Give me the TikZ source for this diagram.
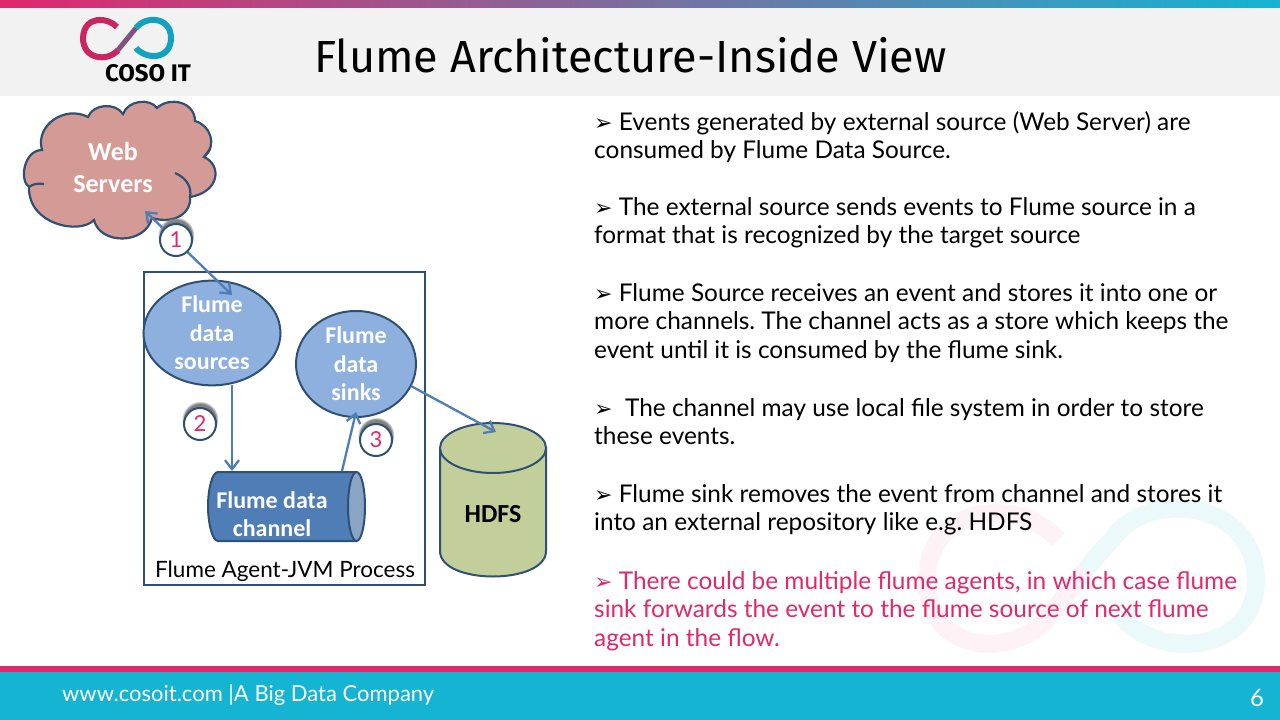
\documentclass[tikz,border=0pt]{standalone}
\usepackage{fontspec}
\setmainfont{Lato}
\newfontfamily\headfont{Fira Sans}
\newfontfamily\boxfont{Carlito}
\newfontfamily\markfont{DejaVu Sans}
\usetikzlibrary{arrows.meta}
\usetikzlibrary{shapes.geometric}
\usetikzlibrary{shadows}
\definecolor{rimblue}{HTML}{2F5073}
\definecolor{flowblue}{HTML}{4F7DB5}
\definecolor{paleblue}{HTML}{8EB0DE}
\definecolor{cloudred}{HTML}{D49B96}
\definecolor{drumgreen}{HTML}{C3CF9A}
\definecolor{cosopink}{HTML}{E0286C}
\definecolor{cosoteal}{HTML}{14B4D2}
\newcommand{\para}[1]{{\markfont\fontsize{22}{20}\selectfont ➢}#1}
\tikzset{
	boxtext/.style={font=\boxfont\bfseries\fontsize{24}{28.5}\selectfont,align=center,text=white},
	blob/.style={draw=rimblue,fill=paleblue,ellipse,line width=2pt,inner sep=0pt,boxtext},
	stepcirc/.style={draw=rimblue,fill=white,circle,line width=2pt,minimum size=32pt,inner sep=0pt,text=cosopink,font=\fontsize{22}{24}\selectfont,
		circular drop shadow={shadow xshift=0pt,shadow yshift=4pt,shadow scale=1.15}},
	bodytext/.style={anchor=north west,align=left,inner sep=0pt,font=\frenchspacing\fontsize{24.4}{28.8}\selectfont},
	flow/.style={->,draw=flowblue,line width=2.3pt}
}
\begin{document}
\begin{tikzpicture}[x=1pt,y=-1pt,>={Straight Barb[length=9pt,width=14pt]}]
		\useasboundingbox (0,0) rectangle (1280,720);
		\fill[white] (0,0) rectangle (1280,720);
		% watermark
		\draw[line width=18pt,color=cosopink!6] (1058,540) .. controls (1020,495) and (927,505) .. (927,580) .. controls (927,655) and (1015,660) .. (1050,615) -- (1085,570);
		\draw[line width=18pt,color=cosoteal!8] (1085,570) -- (1120,530) .. controls (1160,490) and (1256,505) .. (1256,580) .. controls (1256,655) and (1155,660) .. (1120,615);
		% bands
		\shade[left color=cosopink,right color=cosoteal] (0,0) rectangle (1280,8);
		\fill[black!5] (0,8) rectangle (1280,96);
		\fill[cosopink] (0,666) rectangle (1280,672);
		\fill[cosoteal] (0,672) rectangle (1280,720);
		% logo
		\draw[line width=6pt,color=cosopink!90!black] (117,27) .. controls (108,17) and (84,15) .. (83,38) .. controls (83,60) and (108,62) .. (118,50);
		\draw[line width=5pt,color=violet!35!gray] (118,50) -- (136,28);
		\draw[line width=6pt,color=cosoteal!90!black] (136,28) .. controls (146,15) and (171,17) .. (171,38) .. controls (171,60) and (146,60) .. (136,48);
		\node (logo) at (148,73) {\headfont\bfseries\fontsize{24}{25}\selectfont COSO IT};
		\node[anchor=west,inner sep=0pt] (title) at (314,55) {\headfont\fontsize{45}{46}\selectfont Flume Architecture-Inside View};
		\node[anchor=west,inner sep=0pt,text=white] (site) at (62,695) {\fontsize{22}{22}\selectfont www.cosoit.com |A Big Data Company};
		\node[text=white,inner sep=0pt] (page) at (1257,698) {\fontsize{24}{24}\selectfont 6};
		% diagram
		\node[draw=rimblue,line width=2pt,minimum width=281pt,minimum height=313pt] (agent) at (284.5,428.5) {};
		\node[inner sep=0pt] (agentname) at (285,571) {\fontsize{22.5}{24}\selectfont Flume Agent-JVM Process};
		\draw[draw=rimblue,fill=cloudred,line width=2.2pt] (88,117) .. controls (93,104) and (115,102) .. (123,114)
			.. controls (128,100) and (150,98) .. (157,108)
			.. controls (170,96) and (195,102) .. (195,121)
			.. controls (210,125) and (218,145) .. (204,157)
			.. controls (222,165) and (220,192) .. (190,197)
			.. controls (192,212) and (175,225) .. (152,218)
			.. controls (145,245) and (100,245) .. (94,220)
			.. controls (80,235) and (28,225) .. (29,187)
			.. controls (19,180) and (24,150) .. (42,150)
			.. controls (35,125) and (65,105) .. (88,117) -- cycle;
		\draw[draw=rimblue,line width=2.2pt] (175,173) .. controls (187,178) and (192,188) .. (190,197);
		\draw[draw=rimblue,line width=2.2pt] (29,187) .. controls (33,184) and (38,183) .. (44,184);
		\draw[draw=rimblue,line width=2.2pt] (204,157) .. controls (206,154) and (208,152) .. (210,149);
		\node[boxtext,font=\boxfont\bfseries\fontsize{26}{32}\selectfont] (webname) at (113,167) {Web\\Servers};
		\node[blob,minimum width=137pt,minimum height=104pt] (sources) at (212,333) {Flume\\data\\sources};
		\node[blob,minimum width=120pt,minimum height=106pt] (sinks) at (356,364) {Flume\\data\\sinks};
		\draw[draw=rimblue,fill=flowblue,line width=2pt] (218,472) -- (356,472) -- (356,541) -- (218,541) .. controls (212,541) and (208,522) .. (208,506) .. controls (208,490) and (212,472) .. (218,472) -- cycle;
		\draw[draw=rimblue,fill=paleblue!75!gray,line width=2pt] (356.5,506.5) ellipse [x radius=8.5pt,y radius=34.5pt];
		\node[boxtext] (channelname) at (272,514) {Flume data\\channel};
		\draw[draw=rimblue,fill=drumgreen,line width=2pt] (440,448) -- (440,551) .. controls (440,585) and (546,585) .. (546,551) -- (546,448) -- cycle;
		\draw[draw=rimblue,fill=drumgreen,line width=2pt] (493,448) ellipse [x radius=53pt,y radius=25pt];
		\node[font=\boxfont\bfseries\fontsize{26}{28}\selectfont] (hdfsname) at (493,514) {HDFS};
		\coordinate (webend) at (145,211);
		\coordinate (sourcestop) at (232,295);
		\coordinate (sourcesfoot) at (232,385);
		\coordinate (channeltop) at (232,471);
		\coordinate (channelout) at (342,471);
		\coordinate (sinksfoot) at (356,412);
		\coordinate (sinksside) at (411,386);
		\coordinate (hdfstop) at (496,432);
		\draw[flow,<->]  (webend) -- (sourcestop);
		\draw[flow]  (sourcesfoot) -- (channeltop);
		\draw[flow]  (channelout) -- (sinksfoot);
		\draw[flow]  (sinksside) -- (hdfstop);
		\node[stepcirc] (stepa) at (176,240) {1};
		\node[stepcirc] (stepb) at (200,424) {2};
		\node[stepcirc] (stepc) at (376,440) {3};
		% text
		\node[bodytext] (ptA) at (594,111) {\para{ Events generated by external source (Web Server) are}\\consumed by Flume Data Source.};
		\node[bodytext] (ptB) at (594,197) {\para{ The external source sends events to Flume source in a}\\format that is recognized by the target source};
		\node[bodytext] (ptC) at (594,283) {\para{ Flume Source receives an event and stores it into one or}\\more channels. The channel acts as a store which keeps the\\event until it is consumed by the flume sink.};
		\node[bodytext] (ptD) at (594,398) {\para{~ The channel may use local file system in order to store}\\these events.};
		\node[bodytext] (ptE) at (594,484) {\para{ Flume sink removes the event from channel and stores it}\\into an external repository like e.g. HDFS};
		\node[bodytext,text=cosopink] (ptF) at (594,571) {\para{ There could be multiple flume agents, in which case flume}\\sink forwards the event to the flume source of next flume\\agent in the flow.};
\end{tikzpicture}
\end{document}
